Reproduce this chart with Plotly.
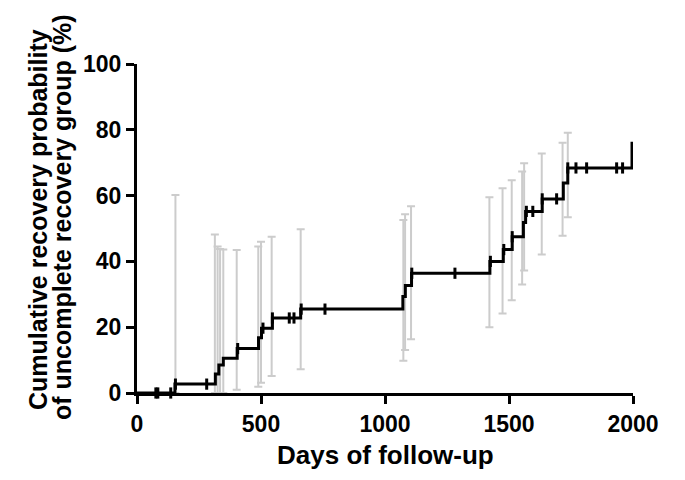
import plotly.graph_objects as go

# Step curve: event times (days) and cumulative recovery probability (%)
event_days = [153, 316, 330, 348, 404, 490, 502, 546, 660, 1072, 1082, 1107,
              1423, 1477, 1513, 1558, 1567, 1634, 1719, 1737, 1996]
cum_pct = [2.7, 5.8, 8.5, 10.6, 13.5, 16.8, 19.7, 22.8, 25.5, 29.3, 32.7, 36.4,
           40.0, 43.6, 47.5, 51.8, 55.2, 59.0, 63.8, 68.4, 76.4]

# 95% confidence interval bars
ci_days = [155, 314, 325, 335, 348, 402, 489, 500, 543, 660, 1074, 1081, 1105,
           1421, 1474, 1511, 1553, 1561, 1632, 1716, 1737]
ci_low = [0, 0, 0, 0, 0, 1.0, 1.9, 3.1, 5.2, 7.2, 9.8, 13.1, 16.3,
          20.0, 24.2, 28.2, 33.0, 37.2, 42.1, 47.8, 53.4]
ci_high = [60.2, 48.2, 44.5, 43.8, 43.6, 43.5, 44.5, 46.0, 47.5, 49.8, 52.6, 54.3, 56.8,
           59.5, 62.2, 64.7, 67.3, 69.8, 72.8, 76.1, 79.1]

# Censored observations
censor_days = [76, 84, 136, 155, 281, 406, 508, 546, 614, 633, 662, 758, 1108, 1282,
               1425, 1479, 1513, 1570, 1596, 1634, 1692, 1737, 1770, 1813, 1934, 1958]
censor_pct = [0, 0, 0, 2.7, 2.7, 13.5, 19.7, 22.8, 22.8, 22.8, 25.5, 25.5, 36.4, 36.4,
              40.0, 43.6, 47.5, 55.2, 55.2, 59.0, 59.0, 68.4, 68.4, 68.4, 68.4, 68.4]

x_ticks = [0, 500, 1000, 1500, 2000]
y_ticks = [0, 20, 40, 60, 80, 100]

FONT = "Liberation Sans, Arial, Helvetica, sans-serif"

fig = go.Figure()

fig.add_trace(go.Scatter(
    x=ci_days, y=ci_low, mode="markers",
    marker=dict(size=1, color="rgba(0,0,0,0)"),
    error_y=dict(type="data", symmetric=False,
                 array=[h - l for h, l in zip(ci_high, ci_low)],
                 arrayminus=[0] * len(ci_low),
                 color="#cccccc", thickness=2, width=4),
    hoverinfo="skip", showlegend=False, cliponaxis=False,
))

fig.add_trace(go.Scatter(
    x=[0] + event_days, y=[0] + cum_pct, mode="lines",
    line=dict(shape="hv", color="black", width=3),
    showlegend=False,
))

fig.add_trace(go.Scatter(
    x=censor_days, y=censor_pct, mode="markers",
    marker=dict(symbol="line-ns", size=8, line=dict(width=3, color="black")),
    showlegend=False, cliponaxis=False,
))

axis_common = dict(
    showgrid=False, zeroline=False, showline=True, linecolor="black", linewidth=3,
    ticks="outside", ticklen=8, tickwidth=2.5, tickcolor="black",
    tickfont=dict(family=FONT, size=23, color="black", weight="bold"),
)

fig.update_xaxes(range=[0, 2000], tickvals=x_ticks, ticktext=[str(v) for v in x_ticks],
                 **axis_common)
fig.update_yaxes(range=[0, 100], tickvals=y_ticks, ticktext=[str(v) for v in y_ticks],
                 **axis_common)

# page body adds an 8px offset; margins compensate so the plot lands at x 137..633, y 64..393
fig.update_layout(
    width=685, height=480,
    margin=dict(l=129, r=60, t=56, b=95),
    plot_bgcolor="white", paper_bgcolor="white",
    showlegend=False,
    annotations=[
        dict(text="Days of follow-up", xref="paper", yref="paper",
             x=0.5, y=(393 - 455) / 329, xanchor="center", yanchor="middle",
             showarrow=False, font=dict(family=FONT, size=26, color="black", weight="bold")),
        dict(text="Cumulative recovery probability", xref="paper", yref="paper",
             x=(38 - 137) / 496, y=(393 - 220) / 329, xanchor="center", yanchor="middle",
             textangle=-90, showarrow=False,
             font=dict(family=FONT, size=25, color="black", weight="bold")),
        dict(text="of uncomplete recovery group (%)", xref="paper", yref="paper",
             x=(62 - 137) / 496, y=(393 - 217) / 329, xanchor="center", yanchor="middle",
             textangle=-90, showarrow=False,
             font=dict(family=FONT, size=25, color="black", weight="bold")),
    ],
)

fig.write_html("out.html")
